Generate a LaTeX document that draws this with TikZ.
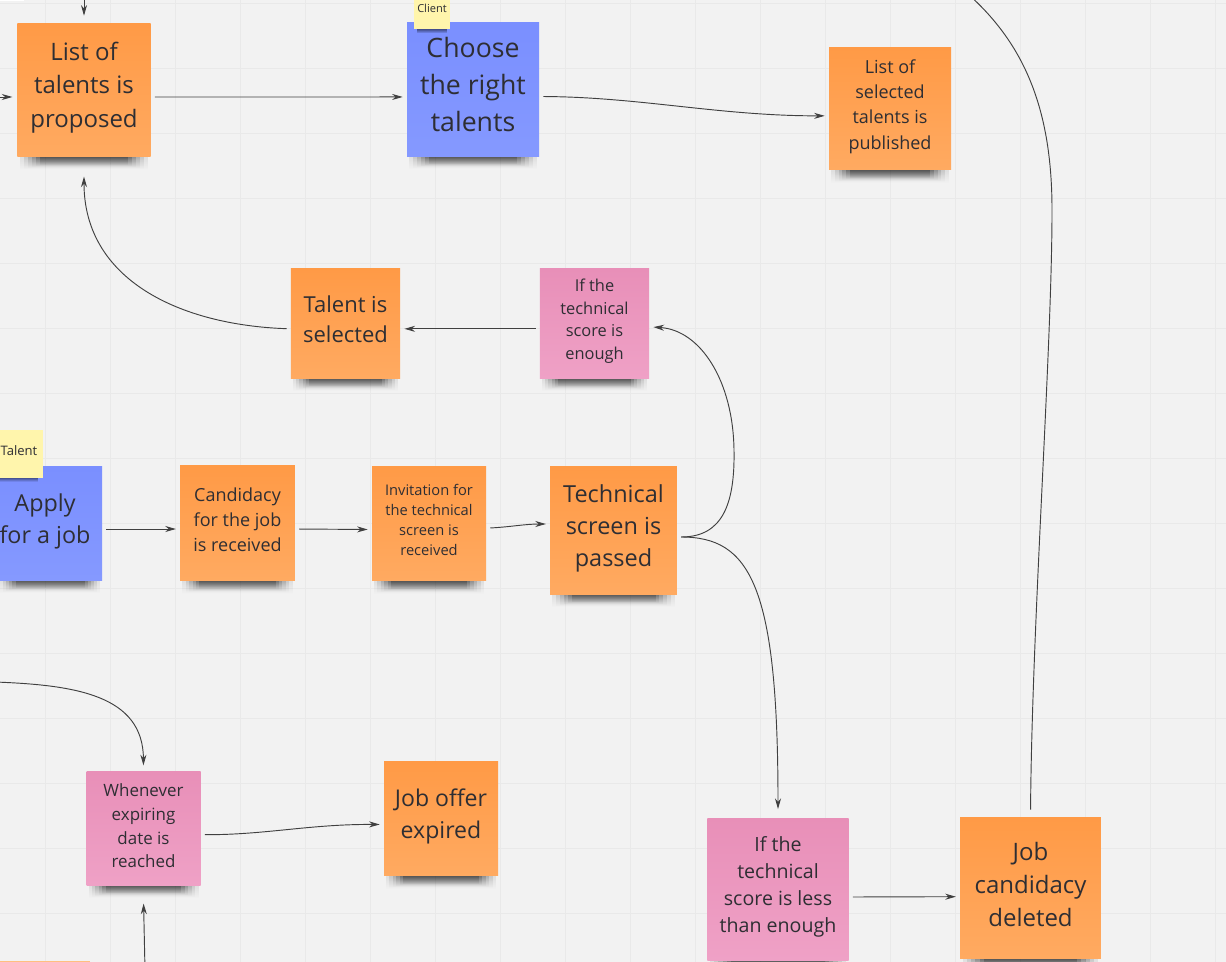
\documentclass[tikz,border=0pt]{standalone}
\usepackage{fontspec}
\setmainfont{Open Sans}
\usetikzlibrary{arrows.meta,calc,fadings}
\definecolor{boardgray}{HTML}{F2F2F2}
\definecolor{gridgray}{HTML}{E9E9E9}
\definecolor{inkgray}{HTML}{2E2E33}
\tikzset{
  notebox/.style={rectangle,inner sep=0pt,
    append after command={\pgfextra{
      \foreach \sinset/\sdepth/\sop in {.02/13/.08,.05/12/.1,.08/11/.13,.11/10/.16,.14/9/.2,.17/8/.24}{
        \fill[black,opacity=\sop,path fading=south] ($(\tikzlastnode.south west)!\sinset!(\tikzlastnode.south east)$) rectangle ($(\tikzlastnode.south east)!\sinset!(\tikzlastnode.south west)+(0,\sdepth)$);
      }}}},
  orangenote/.style={notebox,top color={rgb,255:red,255;green,154;blue,70},bottom color={rgb,255:red,255;green,170;blue,97}},
  bluenote/.style={notebox,top color={rgb,255:red,122;green,143;blue,255},bottom color={rgb,255:red,133;green,153;blue,255}},
  pinknote/.style={notebox,top color={rgb,255:red,232;green,143;blue,184},bottom color={rgb,255:red,239;green,161;blue,198}},
  yellownote/.style={rectangle,inner sep=0pt,fill={rgb,255:red,255;green,245;blue,172},
    append after command={\pgfextra{
      \fill[black,opacity=.45,path fading=south] ($(\tikzlastnode.south west)!.1!(\tikzlastnode.south east)$) rectangle ($(\tikzlastnode.south east)!.1!(\tikzlastnode.south west)+(0,4)$);
      }}},
  notetext/.style={align=center,text=inkgray,inner sep=0pt},
  flowline/.style={black!75,line width=0.7pt,shorten <=3pt,shorten >=3pt,-{Stealth[length=8pt,width=4.5pt]}},
  plainline/.style={black!75,line width=0.7pt,shorten <=3pt}
}
\newcommand{\fs}[2]{\fontsize{#1}{#2}\selectfont}
\begin{document}
\begin{tikzpicture}[x=0.75pt,y=0.75pt,yscale=-1,xscale=1]
\useasboundingbox (0,0) rectangle (1226,962);
\clip (0,0) rectangle (1226,962);
\fill[boardgray] (0,0) rectangle (1226,962);
\fill[white] (0,0) rectangle (24,1.5);
%Grid
\foreach \gx in {45,110,...,1215} \draw[gridgray,line width=0.6pt] (\gx,0) -- (\gx,962);
\foreach \gy in {3,68,...,958} \draw[gridgray,line width=0.6pt] (0,\gy) -- (1226,\gy);
\fill[orange!50!white] (0,960.5) rectangle (90,962);

% Notes, orange
\node (listtalents) at (84,90) [orangenote,minimum width=100pt,minimum height=100pt] {};
\node (listselected) at (890,108.5) [orangenote,minimum width=91.5pt,minimum height=92pt] {};
\node (talentselected) at (345.5,323.5) [orangenote,minimum width=82pt,minimum height=82pt] {};
\node (candidacy) at (237.5,523) [orangenote,minimum width=86pt,minimum height=86pt] {};
\node (invitation) at (429,523.5) [orangenote,minimum width=85.5pt,minimum height=86pt] {};
\node (technical) at (613.5,530) [orangenote,minimum width=95pt,minimum height=96pt] {};
\node (jobexpired) at (441,818.5) [orangenote,minimum width=85.5pt,minimum height=86pt] {};
\node (jobdeleted) at (1030.5,888) [orangenote,minimum width=105.5pt,minimum height=106pt] {};
% Notes, blue
\node (chooseright) at (473,89.5) [bluenote,minimum width=99pt,minimum height=100pt] {};
\node (applyjob) at (50,523) [bluenote,minimum width=78pt,minimum height=85.5pt] {};
% Notes, pink
\node (scoreenough) at (594.5,323.5) [pinknote,minimum width=82pt,minimum height=82pt] {};
\node (expiringdate) at (143.5,828) [pinknote,minimum width=85.5pt,minimum height=85.5pt] {};
\node (scoreless) at (778,889) [pinknote,minimum width=106pt,minimum height=106.5pt] {};
% Notes, yellow
\node (clienttag) at (432,11) [yellownote,minimum width=27pt,minimum height=27pt] {};
\node (talenttag) at (19,453.5) [yellownote,minimum width=36pt,minimum height=36pt] {};

% Text Node
\node (listtalentstext) at (84,87.5) [notetext,font=\fs{18}{25}] {List of\\talents is\\proposed};
\node (listselectedtext) at (890,106.5) [notetext,font=\fs{13.5}{19}] {List of\\selected\\talents is\\published};
\node (talentselectedtext) at (345.5,319.5) [notetext,font=\fs{16.5}{22.5}] {Talent is\\selected};
\node (candidacytext) at (237.5,520) [notetext,font=\fs{13.5}{18.7}] {Candidacy\\for the job\\is received};
\node (invitationtext) at (429,519.5) [notetext,font=\fs{11}{15}] {Invitation for\\the technical\\screen is\\received};
\node (technicaltext) at (613.5,528.5) [notetext,font=\fs{17.6}{24}] {Technical\\screen is\\passed};
\node (jobexpiredtext) at (441,816.5) [notetext,font=\fs{17.3}{24}] {Job offer\\expired};
\node (jobdeletedtext) at (1030.5,884.5) [notetext,font=\fs{18}{24.7}] {Job\\candidacy\\deleted};
\node (choosetext) at (473,84.5) [notetext,font=\fs{20}{27.4}] {Choose\\the right\\talents};
\node (applytext) at (45,521.5) [notetext,font=\fs{17.5}{23.5}] {Apply\\for a job};
\node (scoreenoughtext) at (594.5,321) [notetext,font=\fs{12.3}{16.9}] {If the\\technical\\score is\\enough};
\node (expiringtext) at (143.5,826) [notetext,font=\fs{12.7}{17.7}] {Whenever\\expiring\\date is\\reached};
\node (scorelesstext) at (778,887) [notetext,font=\fs{14.7}{20.3}] {If the\\technical\\score is less\\than enough};
\node (clienttext) at (432,8) [notetext,font=\fs{8.3}{10}] {Client};
\node (talenttext) at (19,451) [notetext,font=\fs{9.8}{12}] {Talent};

% Free ends
\coordinate (topin) at (84,-6);
\coordinate (leftin) at (-10,97);
\coordinate (farleft) at (-5,682);
\coordinate (bottomin) at (145,970);
\coordinate (farup) at (968,-6);

%Straight Lines
\draw[flowline,shorten <=0pt] (topin) -- ([yshift=-2.5pt]listtalents.north);
\draw[flowline,shorten <=0pt] (leftin) -- ([yshift=5.25pt,xshift=-0.5pt]listtalents.west);
\draw[flowline] ([yshift=5.25pt]listtalents.east) -- ([yshift=5.6pt]chooseright.west);
\draw[flowline] ([yshift=4pt]scoreenough.west) -- ([yshift=4pt]talentselected.east);
\draw[flowline] ([yshift=4.5pt]applyjob.east) -- ([yshift=4.5pt]candidacy.west);
\draw[flowline] ([yshift=4.5pt]candidacy.east) -- ([yshift=4.5pt]invitation.west);
\draw[flowline] ([yshift=6pt]scoreless.east) -- ([yshift=6.5pt]jobdeleted.west);
\draw[flowline,shorten <=0pt] (bottomin) -- ([yshift=10.7pt]expiringdate.south);

%Curve Lines
\draw[flowline] ([yshift=5.25pt]chooseright.east) .. controls (640,97) and (720,116) .. ([yshift=5.5pt]listselected.west);
\draw[flowline] ([yshift=4pt]talentselected.west) .. controls (180,325) and (84,280) .. ([yshift=11.7pt]listtalents.south);
\draw[flowline] ([yshift=3.5pt]invitation.east) .. controls (510,527) and (525,524) .. ([yshift=-4.5pt]technical.west);
\draw[flowline] ([yshift=5.25pt]technical.east) .. controls (722,537) and (735,505) .. (734,450) .. controls (733,380) and (700,330) .. ([yshift=2.5pt]scoreenough.east);
\draw[flowline] ([yshift=5.25pt]technical.east) .. controls (750,537) and (778,585) .. ([yshift=-3.5pt]scoreless.north);
\draw[flowline,shorten <=0pt] (farleft) .. controls (75,685) and (143,695) .. ([yshift=-1pt]expiringdate.north);
\draw[flowline] ([yshift=5pt]expiringdate.east) .. controls (265,835) and (310,824) .. ([yshift=4.5pt]jobexpired.west);
\draw[plainline] ([yshift=-2.5pt]jobdeleted.north) .. controls (1032,620) and (1052,350) .. (1052,210) .. controls (1052,110) and (1025,45) .. (farup);
\end{tikzpicture}
\end{document}
